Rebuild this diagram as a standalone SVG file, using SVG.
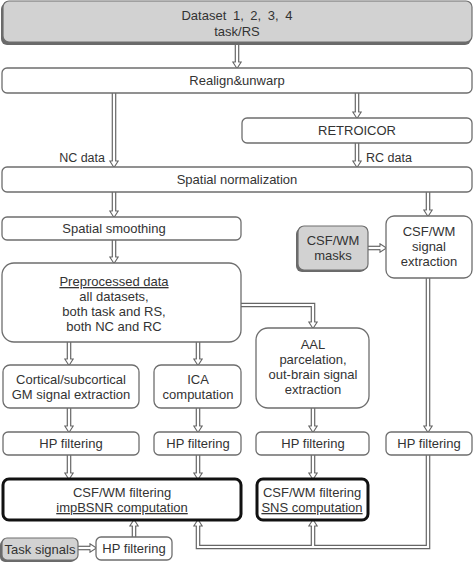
<svg xmlns="http://www.w3.org/2000/svg" width="474" height="562" viewBox="0 0 474 562">
<defs>
<style>
.box{fill:#fff;stroke:#6e6e6e;stroke-width:1.3}
.gbox{fill:#d2d2d2;stroke:#6e6e6e;stroke-width:1.2}
.shadow{fill:#6a6a6a}
.thick{fill:#fff;stroke:#111;stroke-width:3}
text{font-family:"Liberation Sans",Arial,sans-serif;font-size:13px;fill:#333;text-anchor:middle}
.u{text-decoration:underline}
.lbl{font-size:12.5px}
.outer path{fill:none;stroke:#666;stroke-width:4.6}
.inner path{fill:none;stroke:#fff;stroke-width:2.2;marker-end:url(#ah)}
.inner path.nm{marker-end:none}
</style>
<marker id="ah" markerUnits="userSpaceOnUse" viewBox="-1 -5 9 10" refX="0" refY="0" markerWidth="9" markerHeight="10" orient="auto">
<path d="M0,-1.2 L0,-4.2 L6.5,0 L0,4.2 L0,1.2" fill="#fff" stroke="#666" stroke-width="1.1"/>
</marker>
</defs>

<g id="connectors">
<g class="outer">
<path d="M237,43 V62"/>
<path d="M114,93 V161"/>
<path d="M357,93 V112"/>
<path d="M357,143 V161"/>
<path d="M114,192 V211"/>
<path d="M428,192 V210"/>
<path d="M114,240 V257"/>
<path d="M241,305 H313 V322"/>
<path d="M368,248 H380"/>
<path d="M428,278 V426"/>
<path d="M69,342 V359"/>
<path d="M198,342 V359"/>
<path d="M69,408 V426"/>
<path d="M198,408 V426"/>
<path d="M313,408 V426"/>
<path d="M69,455 V473"/>
<path d="M198,455 V473"/>
<path d="M313,455 V473"/>
<path d="M134,537 V526"/>
<path d="M428,455 V547 H198 V526"/>
<path d="M313,547 V526"/>
<path d="M78,548 H90"/>
</g>
<g class="inner">
<path d="M237,43 V62"/>
<path d="M114,93 V161"/>
<path d="M357,93 V112"/>
<path d="M357,143 V161"/>
<path d="M114,192 V211"/>
<path d="M428,192 V210"/>
<path d="M114,240 V257"/>
<path d="M241,305 H313 V322"/>
<path d="M368,248 H380"/>
<path d="M428,278 V426"/>
<path d="M69,342 V359"/>
<path d="M198,342 V359"/>
<path d="M69,408 V426"/>
<path d="M198,408 V426"/>
<path d="M313,408 V426"/>
<path d="M69,455 V473"/>
<path d="M198,455 V473"/>
<path d="M313,455 V473"/>
<path d="M134,537 V526"/>
<path d="M428,455 V547 H198 V526"/>
<path d="M313,547 V526"/>
<path d="M78,548 H90"/>
</g>
<text x="105" y="162" class="lbl" style="text-anchor:end">NC data</text>
<text x="366" y="162" class="lbl" style="text-anchor:start">RC data</text>
</g>

<g id="dataset">
<rect class="shadow" x="1" y="3" width="470" height="42" rx="6"/>
<rect class="gbox" x="3" y="1" width="469" height="41" rx="6"/>
<text x="237" y="20" word-spacing="3">Dataset 1, 2, 3, 4</text>
<text x="237" y="36">task/RS</text>
</g>
<g id="realign">
<rect class="box" x="2" y="68" width="470" height="25" rx="5"/>
<text x="237" y="85">Realign&amp;unwarp</text>
</g>
<g id="retroicor">
<rect class="box" x="242" y="118" width="230" height="25" rx="5"/>
<text x="357" y="135">RETROICOR</text>
</g>
<g id="spatialnorm">
<rect class="box" x="2" y="167" width="470" height="25" rx="5"/>
<text x="237" y="184">Spatial normalization</text>
</g>
<g id="smoothing">
<rect class="box" x="2" y="217" width="239" height="23" rx="5"/>
<text x="114" y="233">Spatial smoothing</text>
</g>
<g id="preprocessed">
<rect class="box" x="2" y="263" width="239" height="79" rx="12"/>
<text x="114" y="286" class="u">Preprocessed data</text>
<text x="114" y="301">all datasets,</text>
<text x="114" y="316">both task and RS,</text>
<text x="114" y="331">both NC and RC</text>
</g>
<g id="masks">
<rect class="shadow" x="296" y="228" width="70" height="44" rx="6"/>
<rect class="gbox" x="298" y="226" width="70" height="44" rx="6"/>
<text x="333" y="245">CSF/WM</text>
<text x="333" y="260">masks</text>
</g>
<g id="csfextract">
<rect class="box" x="386" y="216" width="86" height="62" rx="8"/>
<text x="429" y="236">CSF/WM</text>
<text x="429" y="251">signal</text>
<text x="429" y="266">extraction</text>
</g>
<g id="cortical">
<rect class="box" x="3" y="365" width="136" height="43" rx="7"/>
<text x="71" y="384">Cortical/subcortical</text>
<text x="71" y="399">GM signal extraction</text>
</g>
<g id="ica">
<rect class="box" x="154" y="365" width="87" height="43" rx="7"/>
<text x="198" y="384">ICA</text>
<text x="198" y="399">computation</text>
</g>
<g id="aal">
<rect class="box" x="256" y="328" width="113" height="80" rx="12"/>
<text x="313" y="349">AAL</text>
<text x="313" y="364">parcelation,</text>
<text x="313" y="379">out-brain signal</text>
<text x="313" y="394">extraction</text>
</g>
<g id="hp1"><rect class="box" x="3" y="432" width="136" height="23" rx="5"/><text x="71" y="448">HP filtering</text></g>
<g id="hp2"><rect class="box" x="154" y="432" width="87" height="23" rx="5"/><text x="198" y="448">HP filtering</text></g>
<g id="hp3"><rect class="box" x="256" y="432" width="113" height="23" rx="5"/><text x="313" y="448">HP filtering</text></g>
<g id="hp4"><rect class="box" x="386" y="432" width="86" height="23" rx="5"/><text x="429" y="448">HP filtering</text></g>
<g id="impbsnr">
<rect class="thick" x="3" y="479" width="238" height="41" rx="6"/>
<text x="122" y="497">CSF/WM filtering</text>
<text x="122" y="512" class="u">impBSNR computation</text>
</g>
<g id="sns">
<rect class="thick" x="257" y="479" width="111" height="41" rx="6"/>
<text x="312" y="497">CSF/WM filtering</text>
<text x="312" y="512" class="u">SNS computation</text>
</g>
<g id="tasksignals">
<rect class="shadow" x="0" y="540" width="76" height="22" rx="5"/>
<rect class="gbox" x="2" y="538" width="76" height="22" rx="5"/>
<text x="40" y="554">Task signals</text>
</g>
<g id="hptask">
<rect class="box" x="96" y="537" width="76" height="23" rx="5"/>
<text x="134" y="553">HP filtering</text>
</g>
</svg>
